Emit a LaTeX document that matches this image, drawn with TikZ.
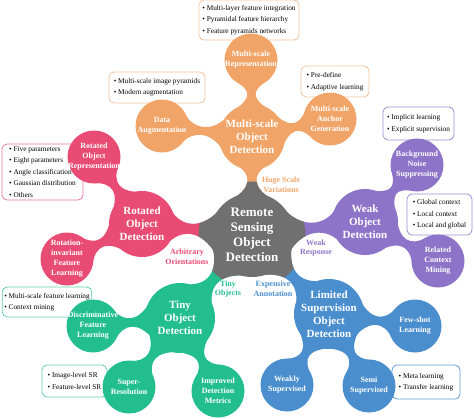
\documentclass[tikz,border=0pt]{standalone}
\usepackage{fontspec}
\setmainfont{Liberation Serif}
\usetikzlibrary{backgrounds, scopes, calc, positioning}
\definecolor{cgrey}{RGB}{112,112,112}
\definecolor{corange}{RGB}{241,164,104}
\definecolor{cpink}{RGB}{232,76,116}
\definecolor{cpurple}{RGB}{142,116,200}
\definecolor{cgreen}{RGB}{34,190,142}
\definecolor{cblue}{RGB}{74,142,206}
\definecolor{lorange}{RGB}{244,196,158}
\definecolor{lpink}{RGB}{232,120,156}
\definecolor{lpurple}{RGB}{160,140,210}
\definecolor{lgreen}{RGB}{100,206,170}
\definecolor{lblue}{RGB}{100,156,212}
\tikzset{
    hub/.style={circle, fill=cgrey, text=white, inner sep=-14pt, minimum size=84pt,
        align=center, font=\bfseries\fontsize{13}{15}\selectfont},
    topic/.style={circle, fill=#1, text=white, inner sep=-14pt, minimum size=66pt,
        align=center, font=\bfseries\fontsize{11}{13}\selectfont},
    sub/.style={circle, fill=#1, text=white, inner sep=-14pt, minimum size=53pt,
        align=center, font=\bfseries\fontsize{8}{10}\selectfont},
    notes/.style={draw=#1, fill=white, rounded corners=5pt, line width=0.8pt,
        align=left, inner sep=2pt, font=\fontsize{7.3}{11.5}\selectfont},
    cause/.style={text=#1, align=center, font=\bfseries\fontsize{8}{9.5}\selectfont}
}
\newcommand{\neck}[6][35]{%
    \fill[#6] ($(#2.center)!#4!#1:(#3.center)$)
        .. controls ($(#2.center)!#4/cos(#1)!(#3.center)$)
        and ($(#3.center)!#5/cos(#1)!(#2.center)$) ..
        ($(#3.center)!#5!-#1:(#2.center)$) -- ($(#3.center)!#5!#1:(#2.center)$)
        .. controls ($(#3.center)!#5/cos(#1)!(#2.center)$)
        and ($(#2.center)!#4/cos(#1)!(#3.center)$) ..
        ($(#2.center)!#4!-#1:(#3.center)$) -- cycle;}

\begin{document}
\begin{tikzpicture}[x=1pt, y=-1pt]
\useasboundingbox (0,0) rectangle (474,418);

\node[hub]            (rsod) at (252,235) {Remote\\Sensing\\Object\\Detection};
\node[topic=corange]  (msod) at (252,137) {Multi-scale\\Object\\Detection};
\node[topic=cpink]    (rod)  at (142,224) {Rotated\\Object\\Detection};
\node[topic=cpurple]  (wod)  at (365,222) {Weak\\Object\\Detection};
\node[topic=cgreen, minimum size=70pt] (tod)  at (180,318) {Tiny\\Object\\Detection};
\node[topic=cblue,  minimum size=70pt] (lsod) at (329,314) {Limited\\Supervision\\Object\\Detection};

\node[sub=corange] (msr)  at (251,60)  {Multi-scale\\Representation};
\node[sub=corange] (da)   at (162,126) {Data\\Augmentation};
\node[sub=corange] (msag) at (330,119) {Multi-scale\\Anchor\\Generation};
\node[sub=cpink]   (ror)  at (94,157)  {Rotated\\Object\\Representation};
\node[sub=cpink]   (rifl) at (67,259)  {Rotation-\\invariant\\Feature\\Learning};
\node[sub=cpurple] (bns)  at (417,165) {Background\\Noise\\Suppressing};
\node[sub=cpurple] (rcm)  at (438,261) {Related\\Context\\Mining};
\node[sub=cgreen]  (dfl)  at (93,326)  {Discriminative\\Feature\\Learning};
\node[sub=cgreen]  (sr)   at (129,387) {Super-\\Resolution};
\node[sub=cgreen]  (idm)  at (218,391) {Improved\\Detection\\Metrics};
\node[sub=cblue]   (fsl)  at (415,326) {Few-shot\\Learning};
\node[sub=cblue]   (ws)   at (287,385) {Weakly\\Supervised};
\node[sub=cblue]   (ss)   at (369,386) {Semi\\Supervised};

\node[cause=corange] (hsv) at (281,185) {Huge Scale\\Variations};
\node[cause=cpink]   (ao)  at (187,257) {Arbitrary\\Orientations};
\node[cause=cpurple] (wr)  at (316,248) {Weak\\Response};
\node[cause=cgreen]  (to)  at (228,289) {Tiny\\Objects};
\node[cause=cblue]   (ea)  at (273,289) {Expensive\\Annotation};

\begin{scope}[on background layer]
\node[notes=lorange, minimum width=100pt, minimum height=40pt] (msrn) at (249,20)
    {\textbullet~Multi-layer feature integration\\ \textbullet~Pyramidal feature hierarchy\\ \textbullet~Feature pyramids networks};
\node[notes=lorange, minimum width=96pt, minimum height=31pt] (dan) at (157,87.5)
    {\textbullet~Multi-scale image pyramids\\ \textbullet~Modern augmentation};
\node[notes=lorange, minimum width=68pt, minimum height=31pt] (msagn) at (335,81.5)
    {\textbullet~Pre-define\\ \textbullet~Adaptive learning};
\node[notes=lpink, minimum width=81pt, minimum height=56pt] (rorn) at (42.5,172)
    {\textbullet~Five parameters\\ \textbullet~Eight parameters\\ \textbullet~Angle classification\\ \textbullet~Gaussian distribution\\ \textbullet~Others};
\node[notes=lpurple, minimum width=71pt, minimum height=33pt] (bnsn) at (418.5,123.5)
    {\textbullet~Implicit learning\\ \textbullet~Explicit supervision};
\node[notes=lpurple, minimum width=65pt, minimum height=41pt] (wodn) at (439.5,214.5)
    {\textbullet~Global context\\ \textbullet~Local context\\ \textbullet~Local and global};
\node[notes=lgreen, minimum width=88pt, minimum height=30pt] (dfln) at (47,302)
    {\textbullet~Multi-scale feature learning\\ \textbullet~Context mining};
\node[notes=lgreen, minimum width=65pt, minimum height=32pt] (srn) at (74.5,381)
    {\textbullet~Image-level SR\\ \textbullet~Feature-level SR};
\node[notes=lblue, minimum width=68pt, minimum height=34pt] (ssn) at (426,382)
    {\textbullet~Meta learning\\ \textbullet~Transfer learning};

\neck{msod}{msr}{32pt}{26pt}{corange}
\neck{msod}{da}{32pt}{26pt}{corange}
\neck{msod}{msag}{32pt}{26pt}{corange}
\neck{rod}{ror}{32pt}{26pt}{cpink}
\neck{rod}{rifl}{32pt}{26pt}{cpink}
\neck{wod}{bns}{32pt}{26pt}{cpurple}
\neck{wod}{rcm}{32pt}{26pt}{cpurple}
\neck{tod}{dfl}{34pt}{26pt}{cgreen}
\neck{tod}{sr}{34pt}{26pt}{cgreen}
\neck{tod}{idm}{34pt}{26pt}{cgreen}
\neck{lsod}{fsl}{34pt}{26pt}{cblue}
\neck{lsod}{ws}{34pt}{26pt}{cblue}
\neck{lsod}{ss}{34pt}{26pt}{cblue}

\neck[30]{rsod}{msod}{41pt}{32pt}{corange}
\neck{rsod}{rod}{41pt}{32pt}{cpink}
\neck{rsod}{wod}{41pt}{32pt}{cpurple}
\neck{rsod}{tod}{41pt}{34pt}{cgreen}
\neck{rsod}{lsod}{41pt}{34pt}{cblue}
{ \clip (rsod.center) circle (53.5pt); \neck[30]{rsod}{msod}{41pt}{32pt}{cgrey} }
{ \clip (rsod.center) circle (59pt);   \neck{rsod}{rod}{41pt}{32pt}{cgrey} }
{ \clip (rsod.center) circle (61pt);   \neck{rsod}{wod}{41pt}{32pt}{cgrey} }
{ \clip (rsod.center) circle (58pt);   \neck{rsod}{tod}{41pt}{34pt}{cgrey} }
{ \clip (rsod.center) circle (58pt);   \neck{rsod}{lsod}{41pt}{34pt}{cgrey} }
\end{scope}
\end{tikzpicture}
\end{document}
